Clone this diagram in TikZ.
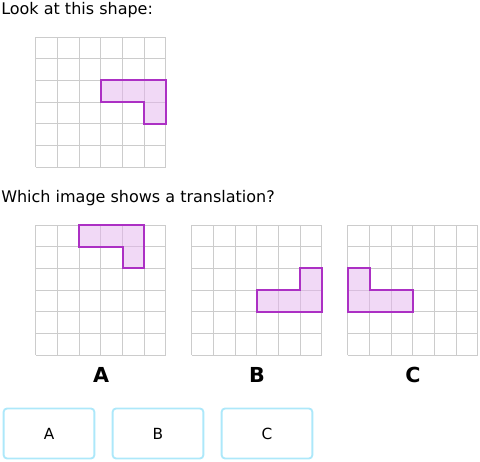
\documentclass[tikz,border=0pt]{standalone}
\usepackage{fontspec}
\setmainfont{DejaVu Sans}
\definecolor{gridgray}{RGB}{204,204,204}
\definecolor{shapeline}{RGB}{172,48,196}
\definecolor{shapefill}{RGB}{228,180,238}
\definecolor{btnline}{RGB}{173,232,250}

\begin{document}
\begin{tikzpicture}[x=0.75pt, y=-0.75pt,
    every node/.style={inner sep=0pt},
    gridline/.style={draw=gridgray, line width=0.75pt, xstep=16.25pt, ystep=16.25pt},
    piece/.style={draw=shapeline, line width=1.6pt, fill=shapefill, fill opacity=0.5},
    prompt/.style={anchor=base west, font=\fontsize{12}{14}\selectfont},
    panelname/.style={font=\fontsize{15.5}{18}\selectfont\bfseries},
    choice/.style={draw=btnline, line width=1.4pt, rounded corners=2.5pt,
        minimum width=68pt, minimum height=37.5pt, font=\fontsize{11.5}{13}\selectfont}]
    \useasboundingbox (0,0) rectangle (480,462);

    \node[prompt] (look) at (1,14) {Look at this shape:};

    % original shape
    \begin{scope}[shift={(36,37)}, x=16.25pt, y=-16.25pt]
        \draw[gridline] (0,0) grid (6,6);
        \draw[piece] (3,2) -- (6,2) -- (6,4) -- (5,4) -- (5,3) -- (3,3) -- cycle;
    \end{scope}

    \node[prompt] (question) at (1,202) {Which image shows a translation?};

    % option A
    \begin{scope}[shift={(36,225)}, x=16.25pt, y=-16.25pt]
        \draw[gridline] (0,0) grid (6,6);
        \draw[piece] (2,0) -- (5,0) -- (5,2) -- (4,2) -- (4,1) -- (2,1) -- cycle;
    \end{scope}
    % option B
    \begin{scope}[shift={(192,225)}, x=16.25pt, y=-16.25pt]
        \draw[gridline] (0,0) grid (6,6);
        \draw[piece] (5,2) -- (6,2) -- (6,4) -- (3,4) -- (3,3) -- (5,3) -- cycle;
    \end{scope}
    % option C
    \begin{scope}[shift={(348,225)}, x=16.25pt, y=-16.25pt]
        \draw[gridline] (0,0) grid (6,6);
        \draw[piece] (0,2) -- (1,2) -- (1,3) -- (3,3) -- (3,4) -- (0,4) -- cycle;
    \end{scope}

    \node[panelname] (nameA) at (101,375) {A};
    \node[panelname] (nameB) at (257,375) {B};
    \node[panelname] (nameC) at (413,375) {C};

    \node[choice] (btnA) at (49,433.5) {A};
    \node[choice] (btnB) at (158,433.5) {B};
    \node[choice] (btnC) at (267,433.5) {C};
\end{tikzpicture}
\end{document}
